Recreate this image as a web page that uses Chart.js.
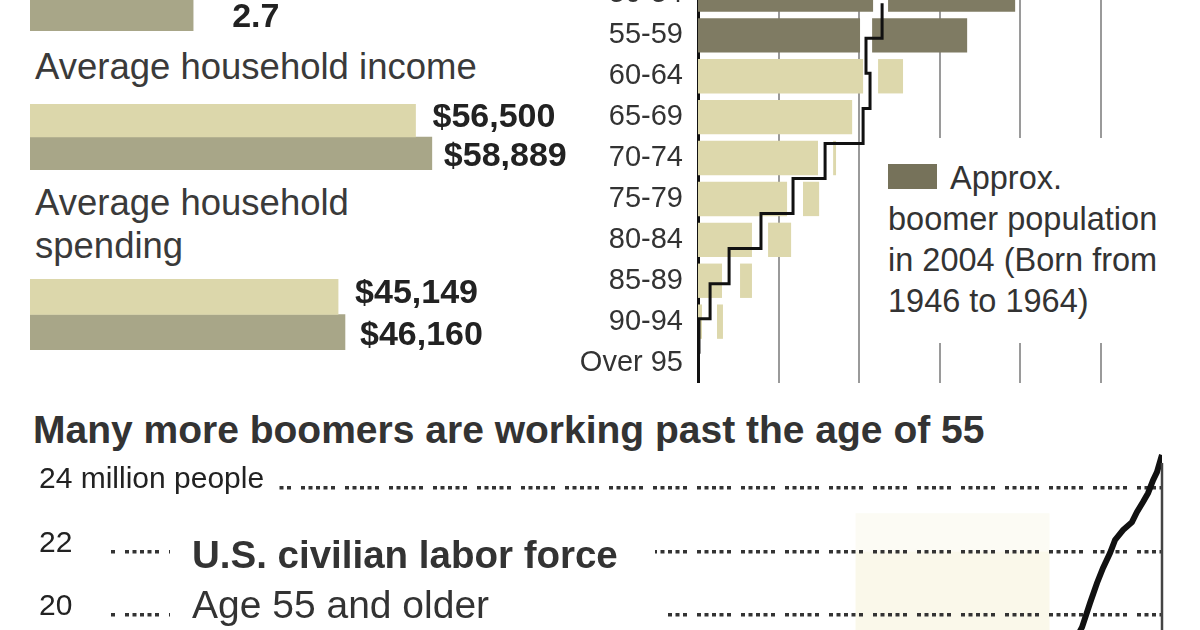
<!DOCTYPE html>
<html>
<head>
<meta charset="utf-8">
<script src="https://cdn.jsdelivr.net/npm/chart.js@4.4.1/dist/chart.umd.min.js"></script>
<style>
  body { margin: 0; width: 1200px; height: 630px; overflow: hidden; position: relative; background: #fff;
         font-family: "Liberation Sans", Arial, sans-serif; color: #333; }
  .box { position: absolute; }
  .txt { position: absolute; white-space: nowrap; }
  .head { font-size: 36.5px; line-height: 43px; color: #3a3a3a; }
  .title { font-size: 39px; line-height: 39px; font-weight: bold; color: #333; }
  .legend { position: absolute; left: 872px; top: 138px; width: 300px; height: 205px; background: #fff;
            box-sizing: border-box; padding: 20px 0 0 16px; font-size: 32.5px; line-height: 41px; color: #333; white-space: nowrap; }
  .swatch { display: inline-block; width: 49px; height: 25px; background: #76725a; margin-right: 13px; }
  .note { position: absolute; background: #fff; box-sizing: border-box; padding-left: 22px;
          line-height: 40px; color: #333; white-space: nowrap; }
</style>
</head>
<body>

<div class="box" style="left:30px;top:-35px;width:580px;height:66px"><canvas id="sizeChart"></canvas></div>
<div class="txt head" style="left:35px;top:45px">Average household income</div>
<div class="box" style="left:30px;top:104px;width:580px;height:66px"><canvas id="incomeChart"></canvas></div>
<div class="txt head" style="left:35px;top:181px">Average household<br>spending</div>
<div class="box" style="left:30px;top:279px;width:580px;height:71px"><canvas id="spendChart"></canvas></div>

<div class="box" style="left:580px;top:-26px;width:569px;height:409px"><canvas id="popChart"></canvas></div>
<div class="legend"><span class="swatch"></span>Approx.<br>boomer population<br>in 2004 (Born from<br>1946 to 1964)</div>

<div class="txt title" style="left:33px;top:410px">Many more boomers are working past the age of 55</div>
<div class="box" style="left:37px;top:440px;width:1135px;height:191px"><canvas id="laborChart"></canvas></div>
<div class="note" style="left:170px;top:535px;width:485px;font-weight:bold;font-size:38.5px">U.S. civilian labor force</div>
<div class="note" style="left:170px;top:585px;width:498px;font-size:39px">Age 55 and older</div>

<script>
// household comparison (light = all households, dark = boomer households)
const householdGroups = ['Average household size', 'Average household income', 'Average household spending'];
const allHouseholds = [2.5, 56500, 45149];
const boomerHouseholds = [2.7, 58889, 46160];

// population by age group
const ageGroups = ['50-54', '55-59', '60-64', '65-69', '70-74', '75-79', '80-84', '85-89', '90-94', 'Over 95'];
const boomerAgeGroups = ['50-54', '55-59'];
const population = [10.87, 10.06, 10.25, 9.57, 7.45, 5.53, 3.35, 1.49, 0.25, 0];
const outline = [11.43, 10.43, 10.68, 10.25, 7.89, 5.90, 3.91, 1.93, 0.75, 0.06];
const extraFrom = [11.80, 10.81, 11.18, null, 8.39, 6.52, 4.35, 2.61, 1.18, null];
const extraTo = [19.69, 16.71, 12.73, null, 8.57, 7.52, 5.78, 3.35, 1.55, null];
const popTicks = [5, 10, 15, 20, 25];

// labor force age 55 and older, millions
const laborYears = [2001.25, 2001.88, 2002.29, 2002.65, 2002.96, 2003.32, 2003.58, 2003.99, 2004.45, 2004.71, 2005.02, 2005.28, 2005.54, 2005.74, 2006.0];
const laborForce = [18.9, 19.62, 20.38, 21.01, 21.48, 21.95, 22.36, 22.67, 22.92, 23.24, 23.55, 23.83, 24.24, 24.49, 25.03];
const laborTicks = [20, 22, 24];
const shadedYears = [1990.2, 2000.2];

Chart.defaults.font.family = '"Liberation Sans", Arial, sans-serif';
Chart.defaults.animation = false;
Chart.defaults.plugins.legend.display = false;
Chart.defaults.plugins.tooltip.enabled = false;

const LIGHT = '#dcd7ab';
const DARK = '#a8a688';

// no extra room for half labels above/below vertical axes
const noPadding = s => { s.paddingTop = 0; s.paddingBottom = 0; };

const barValueLabels = {
  id: 'barValueLabels',
  afterDatasetsDraw(chart, args, opts) {
    const ctx = chart.ctx;
    ctx.save();
    ctx.font = 'bold 34px "Liberation Sans", Arial, sans-serif';
    ctx.fillStyle = '#222';
    ctx.textBaseline = 'middle';
    chart.data.datasets.forEach((ds, di) => {
      chart.getDatasetMeta(di).data.forEach((bar, i) => {
        ctx.fillText(opts.format(ds.data[i]), bar.x + opts.gap[di], bar.y + opts.shift[di]);
      });
    });
    ctx.restore();
  }
};

function householdChart(id, idx, max, format, gap) {
  new Chart(document.getElementById(id), {
    type: 'bar',
    data: {
      labels: [householdGroups[idx]],
      datasets: [
        { data: [allHouseholds[idx]], backgroundColor: LIGHT },
        { data: [boomerHouseholds[idx]], backgroundColor: DARK }
      ]
    },
    options: {
      indexAxis: 'y',
      responsive: true,
      maintainAspectRatio: false,
      layout: { padding: 0 },
      datasets: { bar: { barPercentage: 1, categoryPercentage: 1 } },
      scales: {
        x: { display: false, min: 0, max: max },
        y: { display: false }
      },
      plugins: { barValueLabels: { format: format, gap: gap, shift: [-3, 3] } }
    },
    plugins: [barValueLabels]
  });
}

const dollars = v => '$' + v.toLocaleString('en-US');
householdChart('sizeChart', 0, 9.6, v => v.toFixed(1), [39, 39]);
householdChart('incomeChart', 1, 85000, dollars, [17, 12]);
householdChart('spendChart', 2, 85000, dollars, [17, 15]);

// population chart
const rowColor = ctx => boomerAgeGroups.includes(ageGroups[ctx.dataIndex]) ? '#7f7b63' : '#ddd8ac';
const stepPoints = [];
outline.forEach((v, i) => {
  stepPoints.push({ x: v, y: i - 0.5 }, { x: v, y: i + 0.5 });
});

new Chart(document.getElementById('popChart'), {
  type: 'bar',
  data: {
    labels: ageGroups,
    datasets: [
      {
        type: 'line', data: stepPoints, yAxisID: 'yLine', xAxisID: 'x', order: 0,
        borderColor: '#111', borderWidth: 3, pointRadius: 0, tension: 0, borderJoinStyle: 'miter'
      },
      {
        data: population.map(v => [0, v]), backgroundColor: rowColor, order: 1,
        grouped: false, barPercentage: 0.84, categoryPercentage: 1
      },
      {
        data: extraFrom.map((v, i) => v == null ? null : [v, extraTo[i]]), backgroundColor: rowColor, order: 1,
        grouped: false, barPercentage: 0.84, categoryPercentage: 1
      }
    ]
  },
  options: {
    indexAxis: 'y',
    responsive: true,
    maintainAspectRatio: false,
    layout: { padding: 0 },
    scales: {
      x: {
        type: 'linear', min: 0, max: 28,
        afterBuildTicks: s => { s.ticks = popTicks.map(v => ({ value: v })); },
        ticks: { display: false },
        grid: { color: '#9a9a9a', lineWidth: 2, drawTicks: false },
        border: { display: false }
      },
      y: {
        type: 'category',
        afterFit: s => { s.width = 118; noPadding(s); },
        ticks: { color: '#333', font: { size: 29 }, padding: 15, autoSkip: false },
        grid: { display: false, drawTicks: false },
        border: { color: '#111', width: 3 }
      },
      yLine: { type: 'linear', display: false, min: -0.5, max: ageGroups.length - 0.5, reverse: true }
    }
  }
});

// labor force chart
const laborExtras = {
  id: 'laborExtras',
  beforeDraw(chart) {
    const { ctx, chartArea, scales } = chart;
    const x0 = scales.x.getPixelForValue(shadedYears[0]);
    const x1 = scales.x.getPixelForValue(shadedYears[1]);
    const yTop = scales.y.getPixelForValue(23.2);
    const yMid = scales.y.getPixelForValue(22);
    ctx.save();
    ctx.fillStyle = '#fcfbf4';
    ctx.fillRect(x0, yTop, x1 - x0, yMid - yTop);
    ctx.fillStyle = '#faf8ea';
    ctx.fillRect(x0, yMid, x1 - x0, chartArea.bottom - yMid);
    ctx.restore();
  },
  afterDatasetsDraw(chart) {
    const pts = chart.getDatasetMeta(0).data;
    const last = pts[pts.length - 1];
    const ctx = chart.ctx;
    ctx.save();
    ctx.strokeStyle = '#444';
    ctx.lineWidth = 2.5;
    ctx.beginPath();
    ctx.moveTo(last.x, last.y + 8);
    ctx.lineTo(last.x, chart.chartArea.bottom);
    ctx.stroke();
    ctx.restore();
  }
};

new Chart(document.getElementById('laborChart'), {
  type: 'line',
  data: {
    datasets: [{
      data: laborYears.map((t, i) => ({ x: t, y: laborForce[i] })),
      borderColor: '#111', borderWidth: 6, pointRadius: 0, tension: 0
    }]
  },
  options: {
    responsive: true,
    maintainAspectRatio: false,
    layout: { padding: { right: 10 } },
    scales: {
      x: { type: 'linear', min: 1948, max: 2006, display: false },
      y: {
        min: 19.5, max: 25.5,
        afterBuildTicks: s => { s.ticks = laborTicks.map(v => ({ value: v })); },
        afterFit: s => { s.width = 0; noPadding(s); },
        ticks: {
          mirror: true, padding: 2, labelOffset: -8,
          color: '#222', font: { size: 30 },
          // short labels get extra trailing room so the dotted line starts further right
          callback: v => v === 24 ? '24 million people' : v + '\u2007 ',
          showLabelBackdrop: true, backdropColor: '#fff',
          backdropPadding: { left: 4, top: 0, bottom: 0, right: 12 }
        },
        grid: { color: '#333', lineWidth: 3.5, drawTicks: false },
        border: { display: false, dash: [4, 3.5, 4, 3.5, 4, 3.5, 4, 3.5, 4, 10] }
      }
    }
  },
  plugins: [laborExtras]
});
</script>
</body>
</html>
